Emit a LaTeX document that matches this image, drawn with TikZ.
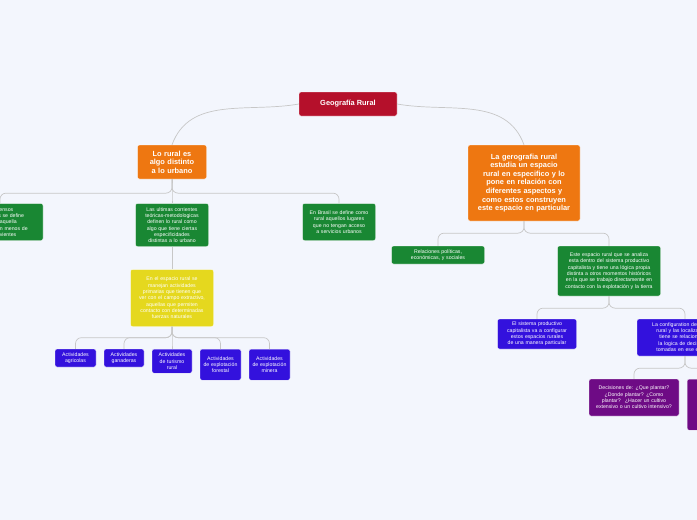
\documentclass[tikz,border=0pt]{standalone}
\usepackage{fontspec}
\setmainfont{Liberation Sans}
\hyphenpenalty=10000\relax
\exhyphenpenalty=10000\relax
\begin{document}
\begin{tikzpicture}[x=1pt,y=-1pt,
 box/.style={rounded corners=2pt,text=white,align=center,inner sep=1.5pt,font=\fontsize{5.2}{6.3}\selectfont,draw=white,line width=0.3pt},
 big/.style={box,font=\bfseries\fontsize{7.4}{8.6}\selectfont},
 conn/.style={draw=black!22,line width=0.7pt,rounded corners=6pt}]
\definecolor{bg}{HTML}{F3F6FD}
\definecolor{cred}{HTML}{B5102B}
\definecolor{cor}{HTML}{EE7711}
\definecolor{cgr}{HTML}{198733}
\definecolor{cye}{HTML}{E5D81E}
\definecolor{cbl}{HTML}{3311DD}
\definecolor{cpu}{HTML}{6E0B85}
\useasboundingbox (0,0) rectangle (697,520);
\clip (0,0) rectangle (697,520);
\fill[bg] (0,0) rectangle (697,520);
\node[big,fill=cred,minimum width=98pt,minimum height=24pt] (root) at (348,104) {Geografía Rural};
\node[big,fill=cor,minimum width=69pt,minimum height=34pt,text width=60pt] (lo) at (172,162) {Lo rural es\\algo distinto\\a lo urbano};
\node[big,fill=cor,minimum width=112pt,minimum height=76pt,text width=96pt] (la) at (524,183) {La gerografia rural estudia un espacio rural en especifico y lo pone en relación con diferentes aspectos y como estos construyen este espacio en particular};
\node[box,fill=cgr,minimum width=86pt,minimum height=37pt,text width=80pt] (g1) at (0,222) {Los censos\\mexicanos se define\\rural a aquella\\localidad con menos de\\2500 avientes};
\node[box,fill=cgr,minimum width=73pt,minimum height=43pt,text width=62pt] (g2) at (172,225) {Las ultimas corrientes teóricas-metodologicas definen lo rural como algo que tiene ciertas especificidades distintas a lo urbano};
\node[box,fill=cgr,minimum width=73pt,minimum height=37pt,text width=62pt] (g3) at (339,222) {En Brasil se define como rural aquellos lugares que no tengan acceso a servicios urbanos};
\node[box,fill=cye,minimum width=83pt,minimum height=57pt,text width=66pt] (y) at (172,298) {En el espacio rural se manejan actividades primarias que tienen que ver con el campo extractivo, aquellas que permiten contacto con determinadas fuerzas naturales};
\node[box,fill=cbl,minimum width=41pt,minimum height=18pt,text width=36pt] (b1) at (75.5,358) {Actividades agricolas};
\node[box,fill=cbl,minimum width=40pt,minimum height=18pt,text width=36pt] (b2) at (124,358) {Actividades ganaderas};
\node[box,fill=cbl,minimum width=40pt,minimum height=24pt,text width=34pt,anchor=north] (b3) at (172,349) {Actividades de turismo rural};
\node[box,fill=cbl,minimum width=41pt,minimum height=31pt,text width=34pt,anchor=north] (b4) at (220.5,349) {Actividades de explotación forestal};
\node[box,fill=cbl,minimum width=41pt,minimum height=31pt,text width=34pt,anchor=north] (b5) at (269.5,349) {Actividades de explotación minera};
\node[box,fill=cgr,minimum width=93pt,minimum height=18pt,text width=70pt] (r1) at (438,255) {Relaciones políticas, económicas, y sociales};
\node[box,fill=cgr,minimum width=103pt,minimum height=50pt,text width=96pt] (r2) at (609,271) {Este espacio rural que se analiza esta dentro del sistema productivo capitalista y tiene una lógica propia distinta a otros momentos históricos en la que se trabajo directamente en contacto con la explotación y la tierra};
\node[box,fill=cbl,minimum width=79pt,minimum height=30pt,text width=74pt] (s1) at (537,334) {El sistema productivo capitalista va a configurar estos espacios rurales de una manera particular};
\node[box,fill=cbl,minimum width=96pt,minimum height=37pt,text width=80pt] (s2) at (685,337.5) {La configuration del espacio rural y las localizaciones tiene se relaciona con la logica de decisiones tomadas en ese espacio};
\node[box,fill=cpu,minimum width=90pt,minimum height=37pt,text width=84pt] (p1) at (634,397.5) {Decisiones de: ¿Que plantar? ¿Donde plantar? ¿Como plantar? \ ¿Hacer un cultivo extensivo o un cultivo intensivo?};
\node[box,fill=cpu,minimum width=60pt,minimum height=51pt,anchor=north west] (p2) at (687,379) {};
\draw[conn] (root.west) to[out=190,in=70] (lo.north);
\draw[conn] (root.east) to[out=-10,in=110] (la.north);
\foreach \c in {g1,g2,g3} \draw[conn] (lo.south) -- ++(0,14) -| (\c.north);
\foreach \c in {b1,b2,b3,b4,b5} \draw[conn] (y.south) -- ++(0,11) -| (\c.north);
\draw[conn] (g2.south) -- (y.north);
\foreach \c in {r1,r2} \draw[conn] (la.south) -- ++(0,12) -| (\c.north);
\foreach \c in {s1,s2} \draw[conn] (r2.south) -- ++(0,12) -| (\c.north);
\draw[conn] (s2.south) -- ++(0,12) -| (p1.north);
\draw[conn] (s2.south) -- ++(0,12) -| ([xshift=30pt]p2.north west);
\end{tikzpicture}
\end{document}
